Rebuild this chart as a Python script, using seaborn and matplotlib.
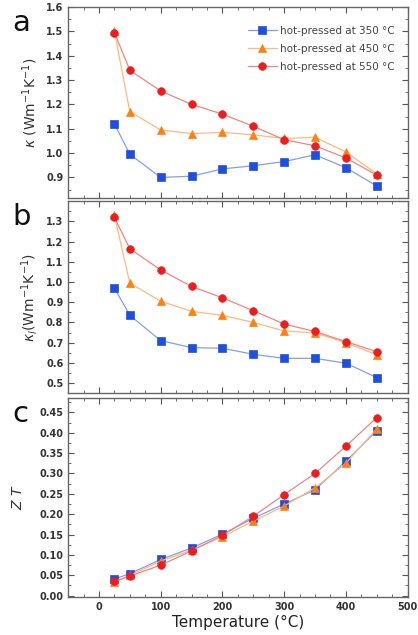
import numpy as np
import pandas as pd
import matplotlib
matplotlib.use('Agg')
import matplotlib.pyplot as plt
import seaborn as sns
from matplotlib.ticker import MultipleLocator, AutoMinorLocator
from matplotlib.colors import to_rgb

# Data
temperature = [25, 50, 100, 150, 200, 250, 300, 350, 400, 450]
series_names = ['hot-pressed at 350 °C', 'hot-pressed at 450 °C', 'hot-pressed at 550 °C']

kappa_350 = [1.12, 0.995, 0.90, 0.905, 0.935, 0.948, 0.965, 0.993, 0.94, 0.865]
kappa_450 = [1.50, 1.17, 1.095, 1.08, 1.085, 1.075, 1.06, 1.065, 1.005, 0.915]
kappa_550 = [1.495, 1.34, 1.255, 1.20, 1.16, 1.11, 1.055, 1.03, 0.98, 0.91]

kappal_350 = [0.97, 0.835, 0.71, 0.675, 0.672, 0.642, 0.622, 0.622, 0.598, 0.527]
kappal_450 = [1.33, 0.995, 0.905, 0.855, 0.835, 0.80, 0.758, 0.748, 0.70, 0.640]
kappal_550 = [1.32, 1.165, 1.06, 0.978, 0.922, 0.858, 0.792, 0.755, 0.705, 0.655]

zt_350 = [0.041, 0.054, 0.089, 0.117, 0.151, 0.19, 0.225, 0.26, 0.33, 0.405]
zt_450 = [0.033, 0.05, 0.085, 0.112, 0.145, 0.183, 0.22, 0.265, 0.325, 0.41]
zt_550 = [0.035, 0.048, 0.075, 0.11, 0.148, 0.195, 0.248, 0.30, 0.367, 0.437]

COLORS = ['#1f4fe0', '#ff7f10', '#ee1c1c']
MARKERS = ['s', '^', 'o']


def long_frame(values):
    rows = []
    for name, vals in zip(series_names, values):
        for t, v in zip(temperature, vals):
            rows.append({'T': t, 'val': v, 'sample': name})
    return pd.DataFrame(rows)


def lighten(c, amount=0.45):
    r, g, b = to_rgb(c)
    return (r + (1 - r) * amount, g + (1 - g) * amount, b + (1 - b) * amount)


def draw_panel(ax, values, ylim, yticks, fmt):
    df = long_frame(values)
    sns.lineplot(data=df, x='T', y='val', hue='sample', style='sample',
                 palette=dict(zip(series_names, COLORS)),
                 markers=dict(zip(series_names, MARKERS)),
                 dashes=False, markersize=5.5, linewidth=0.9,
                 legend=False, ax=ax)
    for line, c in zip(ax.lines, COLORS):
        line.set_markerfacecolor(c)
        line.set_markeredgecolor(c)
        line.set_markeredgewidth(0.5)
        line.set_color(lighten(c))
    ax.set_xlim(-50, 500)
    ax.set_ylim(*ylim)
    ax.set_yticks(yticks)
    ax.xaxis.set_major_locator(MultipleLocator(100))
    ax.xaxis.set_minor_locator(AutoMinorLocator(4))
    ax.yaxis.set_minor_locator(AutoMinorLocator(2))
    ax.yaxis.set_major_formatter(fmt)
    ax.tick_params(which='both', direction='in', top=True, right=True,
                   color='#555555')
    ax.tick_params(which='major', length=4, labelsize=7, labelcolor='#333333')
    ax.tick_params(which='minor', length=2)
    for s in ax.spines.values():
        s.set_color('#666666')
        s.set_linewidth(1.0)
    ax.set_xlabel('')


sns.set_style('ticks')
plt.rcParams['font.family'] = ['DejaVu Sans']

fig = plt.figure(figsize=(4.18, 6.35), dpi=100)
ax_a = fig.add_axes([0.163, 0.688, 0.812, 0.301])
ax_b = fig.add_axes([0.163, 0.381, 0.812, 0.302])
ax_c = fig.add_axes([0.163, 0.060, 0.812, 0.313])

draw_panel(ax_a, [kappa_350, kappa_450, kappa_550], (0.815, 1.6),
           [0.9, 1.0, 1.1, 1.2, 1.3, 1.4, 1.5, 1.6], '{x:.1f}')
draw_panel(ax_b, [kappal_350, kappal_450, kappal_550], (0.45, 1.40),
           [0.5, 0.6, 0.7, 0.8, 0.9, 1.0, 1.1, 1.2, 1.3], '{x:.1f}')
draw_panel(ax_c, [zt_350, zt_450, zt_550], (-0.003, 0.485),
           np.arange(0, 0.46, 0.05), '{x:.2f}')

for ax in (ax_a, ax_b):
    ax.tick_params(labelbottom=False)
for ax in (ax_a, ax_b, ax_c):
    for lbl in ax.get_yticklabels() + ax.get_xticklabels():
        lbl.set_fontweight('bold')

ax_a.set_ylabel(r'$\kappa$ (Wm$^{-1}$K$^{-1}$)', fontsize=10, color='#333333', labelpad=4)
ax_b.set_ylabel(r'$\kappa_l$(Wm$^{-1}$K$^{-1}$)', fontsize=10, color='#333333', labelpad=4)
ax_c.set_ylabel(r'$Z\ T$', fontsize=10, color='#333333', labelpad=10)
ax_c.set_xlabel('Temperature (°C)', fontsize=11, color='#222222', labelpad=2)

handles = ax_a.lines[:3]
ax_a.legend(handles, series_names, loc='upper right', bbox_to_anchor=(0.99, 0.95),
            frameon=False, fontsize=7.5, handlelength=2.8, handletextpad=0.3,
            labelspacing=0.75, labelcolor='#444444')

for ax, letter in zip((ax_a, ax_b, ax_c), ['a', 'b', 'c']):
    ax.text(-0.165, 0.99, letter, transform=ax.transAxes, fontsize=21,
            va='top', ha='left', color='#111111')

fig.savefig('out.png', dpi=100)
